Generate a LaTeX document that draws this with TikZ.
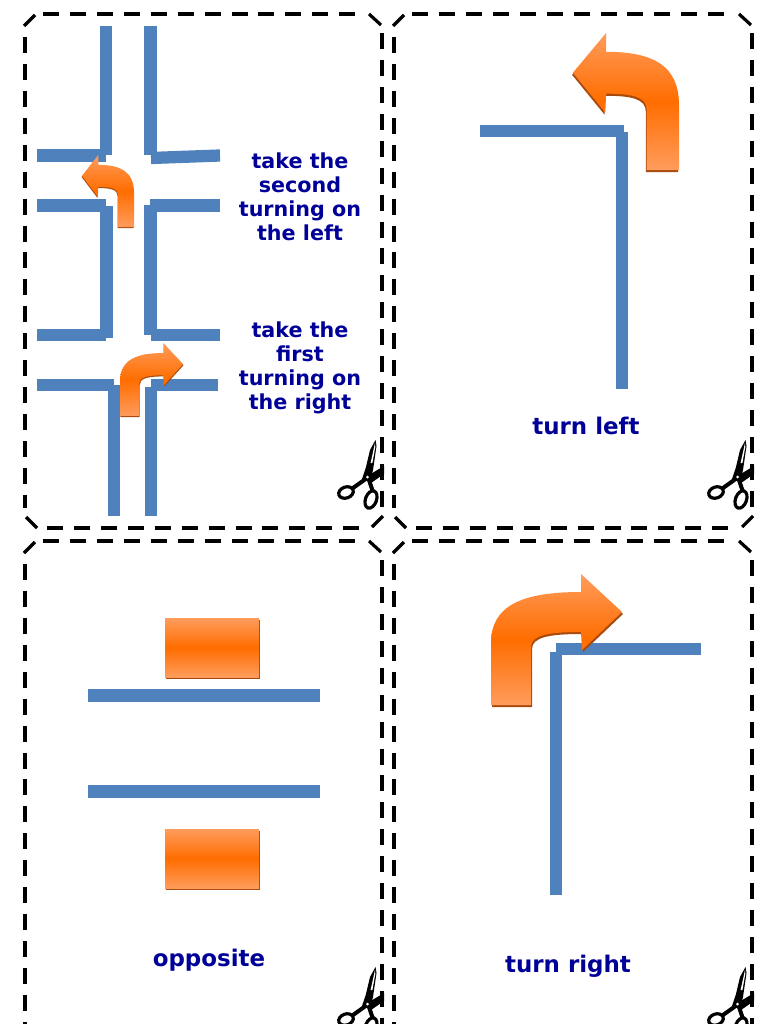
\documentclass[tikz,border=0pt]{standalone}
\usepackage{fontspec}
\setmainfont{DejaVu Sans}
\definecolor{roadblue}{HTML}{4F81BD}
\definecolor{labelblue}{HTML}{000099}
\definecolor{shadeedge}{HTML}{A84A0E}
\definecolor{orlight}{HTML}{FF9C5C}
\definecolor{ormid}{HTML}{FF6D00}
\tikzset{
  road/.style={draw=roadblue,line width=9.2pt,line cap=butt},
  cardedge/.style={draw=black,line width=2.4pt,dash pattern=on 12pt off 8.2pt},
  cardcorner/.style={draw=black,line width=2.4pt},
  orangefill/.style={top color=orlight,bottom color=orlight,middle color=ormid},
  label/.style={text=labelblue,font=\bfseries\fontsize{17.2}{18}\selectfont,align=center,inner sep=0pt},
  smalllabel/.style={text=labelblue,font=\bfseries\fontsize{15.5}{18}\selectfont,align=center,inner sep=0pt}
}
\newcommand{\card}[4]{% left, top, right, bottom
  \draw[cardedge] (#1+18,#2) -- (#3-20,#2);
  \draw[cardedge] (#3,#2+19) -- (#3,#4-21);
  \draw[cardedge] (#1+22,#4) -- (#3-20,#4);
  \draw[cardedge] (#1,#2+23) -- (#1,#4-20);
  \draw[cardcorner] (#1-1,#2+12) -- (#1+10,#2+1);
  \draw[cardcorner] (#3-13,#2) -- (#3-1,#2+11);
  \draw[cardcorner] (#3-10,#4-1) -- (#3+1,#4-12);
  \draw[cardcorner] (#1+1,#4-11) -- (#1+12,#4);
}
\newcommand{\arrowoutline}{(0,131) -- (40,131) -- (40,73) .. controls (40,61) and (58,58) .. (90,58) -- (91,76) -- (131,38) -- (90,0) -- (90,18) .. controls (32,18) and (0,31) .. (0,69) -- cycle}
\newcommand{\turnarrow}[4]{%
  \begin{scope}[shift={(#1,#2)},xscale=#3,yscale=#4]
    \fill[shadeedge,shift={(1,2)}] \arrowoutline;
    \shade[orangefill] \arrowoutline;
  \end{scope}}
\newcommand{\blockshape}[2]{%
  \fill[shadeedge] (#1+1,#2+2) rectangle (#1+95,#2+61);
  \shade[orangefill] (#1,#2) rectangle (#1+94,#2+59);}
\newcommand{\scissors}[2]{%
  \begin{scope}[shift={(#1,#2)}]
    \fill[black] (375.5,440) -- (376.5,446) -- (373,470) -- (370,482) -- (362,479) -- (366,467) -- (370,450) -- cycle;
    \fill[white] (375,443) -- (375.3,447) -- (372.4,463) -- (370.6,463) -- cycle;
    \fill[black] (364,478) -- (384,466) -- (384,474) -- (371,483) -- cycle;
    \draw[black,line width=3pt] (367,478) -- (353,488);
    \draw[black,line width=3pt] (369,480) -- (373,492);
    \draw[black,line width=2.4pt,fill=white,rotate around={20:(346,492.5)}] (346,492.5) ellipse [x radius=7.5,y radius=5.5];
    \draw[black,line width=2.4pt,fill=white,rotate around={-20:(371,499.5)}] (371,499.5) ellipse [x radius=5.5,y radius=9];
    \fill[white] (367.5,477) circle (1.5);
  \end{scope}}
\begin{document}
\begin{tikzpicture}[x=0.75pt,y=-0.75pt]
\useasboundingbox (0,0) rectangle (768,1024);
\clip (0,0) rectangle (768,1024);
\fill[white] (0,0) rectangle (768,1024);
% card edges
\card{25}{14}{382}{528}
\card{394}{14}{752}{528}
\card{25}{541}{382}{1055}
\card{394}{541}{752}{1055}
% card 1 roads
\draw[road] (106,26) -- (106,155);
\draw[road] (150.5,26) -- (150.5,155);
\draw[road] (37,155.5) -- (106,155.5);
\draw[road] (151,158) -- (220,155.5);
\draw[road] (37,205.5) -- (106,205.5);
\draw[road] (150,205.5) -- (220,205.5);
\draw[road] (106.5,206) -- (106.5,338);
\draw[road] (150.5,205) -- (150.5,335);
\draw[road] (37,335) -- (106,335);
\draw[road] (151,335) -- (220,335);
\draw[road] (37,385) -- (114,385);
\draw[road] (151,385) -- (218,385);
\draw[road] (114,385) -- (114,516);
\draw[road] (151,387) -- (151,516);
\turnarrow{134}{155}{-0.397}{0.55}
\turnarrow{120}{343}{0.481}{0.557}
\node[smalllabel] (second) at (300,197) {take the\\second\\turning on\\the left};
\node[smalllabel] (first) at (300,368) {take the\\first\\turning on\\the right};
% card 2
\draw[road] (480,131) -- (624,131);
\draw[road] (622,132) -- (622,389);
\turnarrow{679}{33}{-0.81}{1.046}
\node[label] (turnleft) at (586,425.5) {turn left};
% card 3
\blockshape{165}{618}
\draw[road] (88,695.5) -- (320,695.5);
\draw[road] (88,791.5) -- (320,791.5);
\blockshape{165}{829}
\node[label] (opposite) at (209,960) {opposite};
% card 4
\draw[road] (556,652) -- (556,895);
\draw[road] (556,649) -- (701,649);
\turnarrow{491}{574}{1}{1}
\node[label] (turnright) at (568,966) {turn right};
% scissors
\scissors{0}{0}
\scissors{370}{0}
\scissors{0}{527}
\scissors{370}{527}
\end{tikzpicture}
\end{document}
